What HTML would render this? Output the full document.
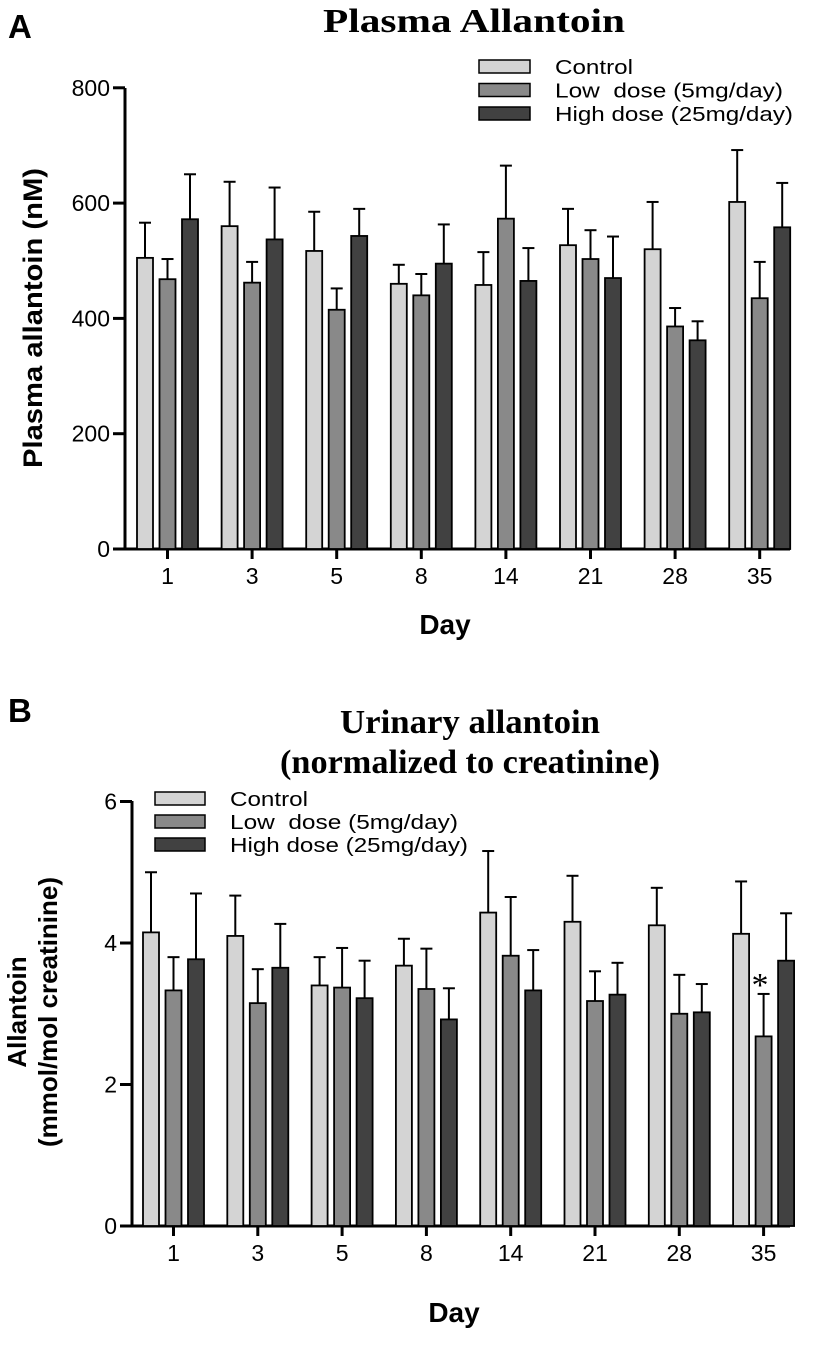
<!DOCTYPE html>
<html><head><meta charset="utf-8"><style>
html,body{margin:0;padding:0;background:#fff;}
svg{display:block;font-family:"Liberation Sans",sans-serif;}
.serif{font-family:"Liberation Serif",serif;}
</style></head><body>
<svg id="s" width="819" height="1350" xmlns="http://www.w3.org/2000/svg"></svg>
<script>
const s=document.getElementById('s');let h='';
const cols=['#d4d4d4','#898989','#414141'];
const days=['1','3','5','8','14','21','28','35'];
const A={ax:125,base:549,scale:115.3/200,x0:137,sp:84.6,bw:16,gap:22.5,
vals:[[505,566,468,503,572,650],[560,637,462,498,537,627],[517,585,415,452,543,590],[460,493,440,477,495,563],[458,515,573,665,465,522],[527,590,503,553,470,542],[520,602,386,418,362,395],[602,692,435,498,558,635]],
ticks:[[0,'0'],[200,'200'],[400,'400'],[600,'600'],[800,'800']],top:88,right:790};
const B={ax:132,base:1226,scale:141.5/2,x0:143,sp:84.3,bw:16,gap:22.5,
vals:[[4.15,5.0,3.33,3.8,3.77,4.7],[4.1,4.67,3.15,3.63,3.65,4.27],[3.4,3.8,3.37,3.93,3.22,3.75],[3.68,4.06,3.35,3.92,2.92,3.36],[4.43,5.3,3.82,4.65,3.33,3.9],[4.3,4.95,3.18,3.6,3.27,3.72],[4.25,4.78,3.0,3.55,3.02,3.42],[4.13,4.87,2.68,3.28,3.75,4.42]],
ticks:[[0,'0'],[2,'2'],[4,'4'],[6,'6']],top:801,right:790};
function panel(P){
 h+=`<line x1="${P.ax}" y1="${P.top}" x2="${P.ax}" y2="${P.base}" stroke="#000" stroke-width="3"/>`;
 h+=`<line x1="${P.ax-12}" y1="${P.base}" x2="${P.right}" y2="${P.base}" stroke="#000" stroke-width="3"/>`;
 P.ticks.forEach(t=>{const y=P.base-t[0]*P.scale;
  h+=`<line x1="${P.ax-12}" y1="${y}" x2="${P.ax}" y2="${y}" stroke="#000" stroke-width="3"/>`;
  h+=`<text x="${P.ax-15}" y="${y+8}" font-size="23" text-anchor="end">${t[1]}</text>`;});
 P.vals.forEach((v,i)=>{const gx=P.x0+i*P.sp;
  for(let k=0;k<3;k++){const x=gx+k*P.gap,y=P.base-v[2*k]*P.scale,ye=P.base-v[2*k+1]*P.scale,cx=x+P.bw/2;
   h+=`<line x1="${cx}" y1="${y}" x2="${cx}" y2="${ye}" stroke="#000" stroke-width="2"/><line x1="${cx-6}" y1="${ye}" x2="${cx+6}" y2="${ye}" stroke="#000" stroke-width="2"/>`;
   h+=`<rect x="${x}" y="${y}" width="${P.bw}" height="${P.base-y}" fill="${cols[k]}" stroke="#000" stroke-width="1.8"/>`;}
  const tx=gx+P.gap+P.bw/2;
  h+=`<line x1="${tx}" y1="${P.base}" x2="${tx}" y2="${P.base+10}" stroke="#000" stroke-width="3"/>`;
  h+=`<text x="${tx}" y="${P.base+35}" font-size="23" text-anchor="middle">${days[i]}</text>`;});
}
panel(A);panel(B);
function legend(x,y,tx,dy,lab,w,tl){lab.forEach((l,k)=>{const yy=y+k*dy;
 h+=`<rect x="${x}" y="${yy}" width="${w}" height="13" fill="${cols[k]}" stroke="#000" stroke-width="1.5"/>`;
 h+=`<text x="${tx}" y="${yy+14}" font-size="20" textLength="${tl[k]}" lengthAdjust="spacingAndGlyphs">${l}</text>`;});}
legend(479,60,555,23.5,['Control','Low&#160; dose (5mg/day)','High dose (25mg/day)'],51,[78,228,238]);
legend(155,792,230,23,['Control','Low&#160; dose (5mg/day)','High dose (25mg/day)'],50,[78,228,238]);
h+=`<text x="760" y="996" font-size="34" class="serif" text-anchor="middle">*</text>`;
h+=`<text x="8" y="38" font-size="33" font-weight="bold">A</text>`;
h+=`<text x="8" y="722" font-size="33" font-weight="bold">B</text>`;
h+=`<text x="474" y="32" font-size="34" font-weight="bold" class="serif" text-anchor="middle" textLength="302" lengthAdjust="spacingAndGlyphs">Plasma Allantoin</text>`;
h+=`<text x="470" y="733" font-size="34" font-weight="bold" class="serif" text-anchor="middle" textLength="260" lengthAdjust="spacingAndGlyphs">Urinary allantoin</text>`;
h+=`<text x="470" y="773" font-size="34" font-weight="bold" class="serif" text-anchor="middle" textLength="380" lengthAdjust="spacingAndGlyphs">(normalized to creatinine)</text>`;
h+=`<text x="445" y="634" font-size="28" font-weight="bold" text-anchor="middle">Day</text>`;
h+=`<text x="454" y="1322" font-size="28" font-weight="bold" text-anchor="middle">Day</text>`;
h+=`<text transform="translate(42,318) rotate(-90)" font-size="27" font-weight="bold" text-anchor="middle" textLength="300" lengthAdjust="spacingAndGlyphs">Plasma allantoin (nM)</text>`;
h+=`<text transform="translate(26,1012) rotate(-90)" font-size="26" font-weight="bold" text-anchor="middle">Allantoin</text>`;
h+=`<text transform="translate(57,1012) rotate(-90)" font-size="26" font-weight="bold" text-anchor="middle" textLength="270" lengthAdjust="spacingAndGlyphs">(mmol/mol creatinine)</text>`;
s.innerHTML=h;
</script>
</body></html>
